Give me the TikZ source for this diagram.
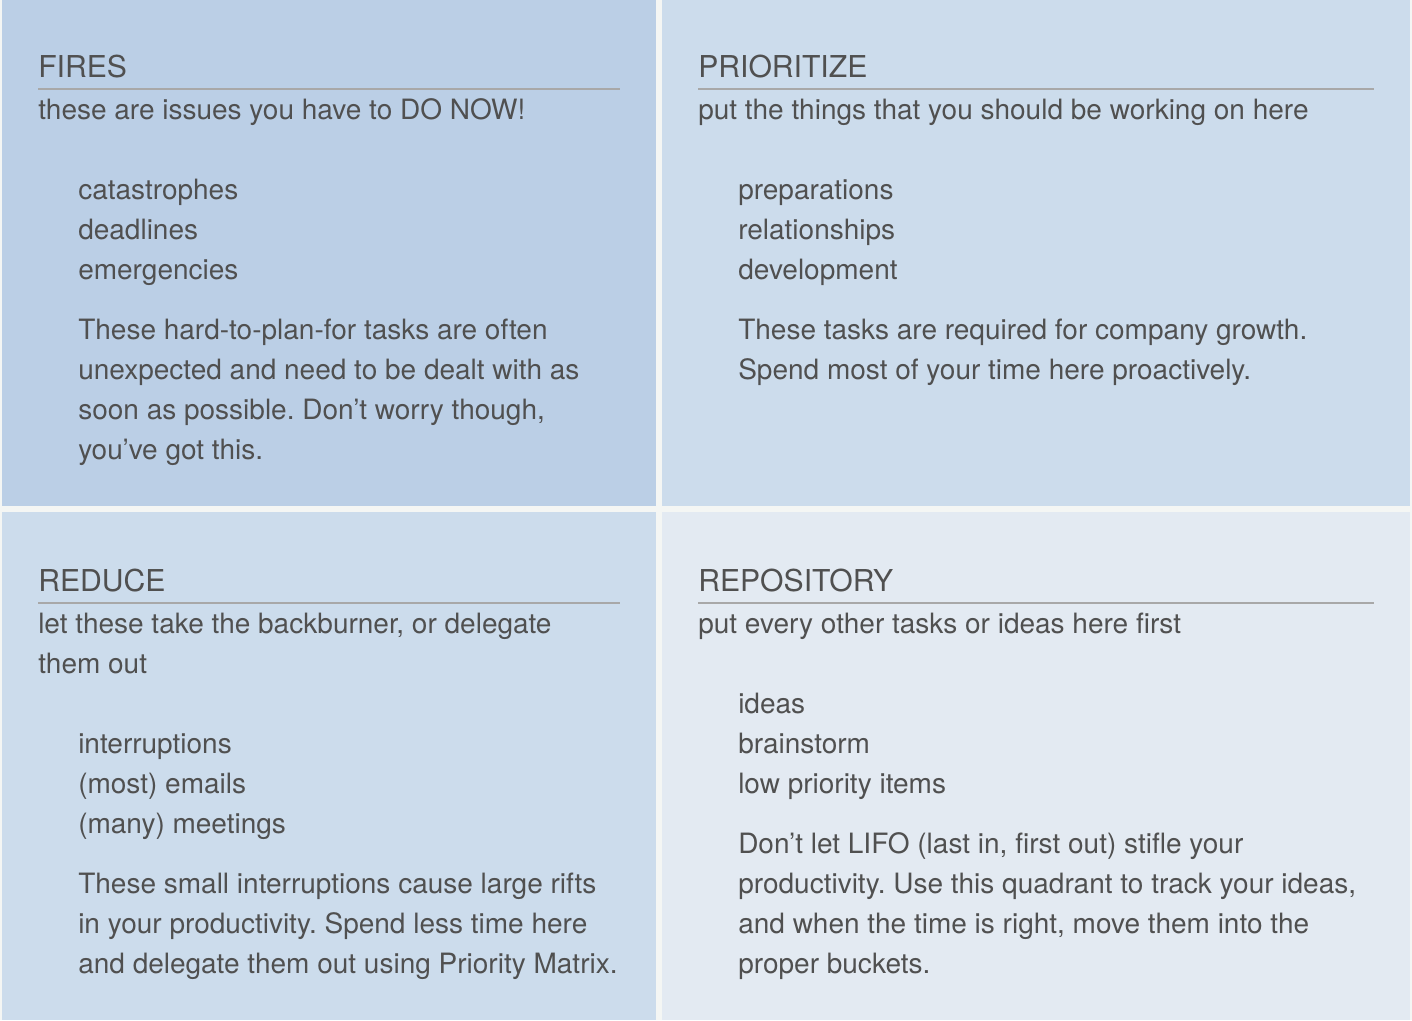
\documentclass[tikz,border=0pt]{standalone}
\usepackage{fontspec}
\setmainfont{TeX Gyre Heros}
\frenchspacing
\definecolor{bgc}{HTML}{F4F6F4}
\definecolor{qa}{HTML}{BBCFE6}
\definecolor{qb}{HTML}{CCDCEC}
\definecolor{qc}{HTML}{CCDCEC}
\definecolor{qd}{HTML}{E3EAF2}
\definecolor{txt}{HTML}{505050}
\definecolor{rulec}{HTML}{A8A8A8}
\tikzset{
  head/.style={anchor=base west,inner sep=0pt,text=txt,font=\fontsize{22.6pt}{26pt}\selectfont},
  body/.style={anchor=base west,inner sep=0pt,text=txt,font=\fontsize{21pt}{30pt}\selectfont},
  hrule/.style={draw=rulec,line width=1.4pt},
}
\begin{document}
\begin{tikzpicture}[x=0.75pt,y=-0.75pt]
\fill[bgc] (0,0) rectangle (1412,1020);
\useasboundingbox (0,0) rectangle (1412,1020);
\fill[qa] (2,0) rectangle (656,506);
\fill[qb] (662,0) rectangle (1410,506);
\fill[qc] (2,512) rectangle (656,1020);
\fill[qd] (662,512) rectangle (1410,1020);
% top-left
\node[head] (h1) at (38,78) {FIRES};
\coordinate (r1a) at (38,89); \coordinate (r1b) at (620,89);
\draw[hrule] (r1a) -- (r1b);
\node[body] (s1) at (38,120) {these are issues you have to DO NOW!};
\node[body] (a1) at (78,199) {catastrophes};
\node[body] (a2) at (78,239) {deadlines};
\node[body] (a3) at (78,279) {emergencies};
\node[body] (p1a) at (78,339) {These hard-to-plan-for tasks are often};
\node[body] (p1b) at (78,379) {unexpected and need to be dealt with as};
\node[body] (p1c) at (78,419) {soon as possible. Don’t worry though,};
\node[body] (p1d) at (78,459) {you’ve got this.};
% top-right
\node[head] (h2) at (698,78) {PRIORITIZE};
\coordinate (r2a) at (698,89); \coordinate (r2b) at (1374,89);
\draw[hrule] (r2a) -- (r2b);
\node[body] (s2) at (698,120) {put the things that you should be working on here};
\node[body] (b1) at (738,199) {preparations};
\node[body] (b2) at (738,239) {relationships};
\node[body] (b3) at (738,279) {development};
\node[body] (p2a) at (738,339) {These tasks are required for company growth.};
\node[body] (p2b) at (738,379) {Spend most of your time here proactively.};
% bottom-left
\node[head] (h3) at (38,591) {REDUCE};
\coordinate (r3a) at (38,603); \coordinate (r3b) at (620,603);
\draw[hrule] (r3a) -- (r3b);
\node[body] (s3a) at (38,633) {let these take the backburner, or delegate};
\node[body] (s3b) at (38,673) {them out};
\node[body] (c1) at (78,753) {interruptions};
\node[body] (c2) at (78,793) {(most) emails};
\node[body] (c3) at (78,833) {(many) meetings};
\node[body] (p3a) at (78,893) {These small interruptions cause large rifts};
\node[body] (p3b) at (78,933) {in your productivity. Spend less time here};
\node[body] (p3c) at (78,973) {and delegate them out using Priority Matrix.};
% bottom-right
\node[head] (h4) at (698,591) {REPOSITORY};
\coordinate (r4a) at (698,603); \coordinate (r4b) at (1374,603);
\draw[hrule] (r4a) -- (r4b);
\node[body] (s4) at (698,633) {put every other tasks or ideas here first};
\node[body] (d1) at (738,713) {ideas};
\node[body] (d2) at (738,753) {brainstorm};
\node[body] (d3) at (738,793) {low priority items};
\node[body] (p4a) at (738,853) {Don’t let LIFO (last in, first out) stifle your};
\node[body] (p4b) at (738,893) {productivity. Use this quadrant to track your ideas,};
\node[body] (p4c) at (738,933) {and when the time is right, move them into the};
\node[body] (p4d) at (738,973) {proper buckets.};
\end{tikzpicture}
\end{document}
